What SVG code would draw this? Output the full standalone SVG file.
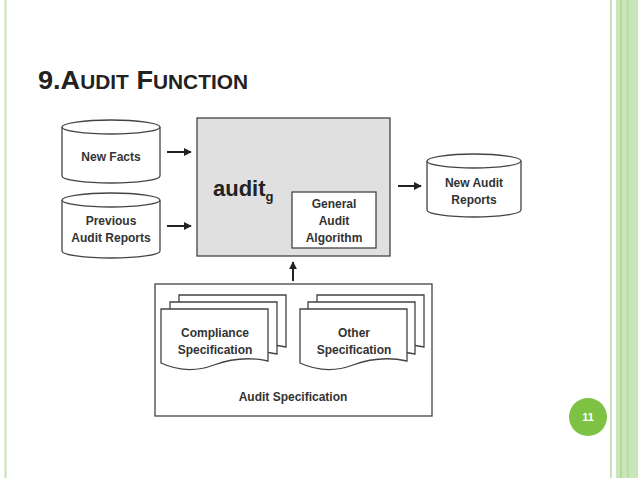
<svg xmlns="http://www.w3.org/2000/svg" width="638" height="478" viewBox="0 0 638 478">
<defs>
<style>
.t{font-family:"Liberation Sans",Arial,sans-serif;font-weight:bold;fill:#333;font-size:12px;text-anchor:middle}
.s{fill:#fff;stroke:#444;stroke-width:1.3}
.c{stroke:#222;stroke-width:2;fill:none}
</style>
<marker id="ah" viewBox="0 0 10 10" refX="9" refY="5" markerWidth="4" markerHeight="4" orient="auto"><path d="M0,0L10,5L0,10z" fill="#222"/></marker>
<g id="pg"><path d="M0,0H107V52Q80,46 53,56T0,54Z"/></g>
</defs>
<rect width="638" height="478" fill="#fff"/>
<rect x="4.5" y="0" width="2" height="478" fill="#c7e3b5"/>
<rect x="610" y="0" width="2" height="478" fill="#c7e3b5"/>
<rect x="616" y="0" width="22" height="478" fill="#c9e6b8"/>
<rect x="620" y="0" width="2" height="478" fill="#b3d99d"/>
<rect x="627" y="0" width="1.5" height="478" fill="#b3d99d"/>
<text x="38" y="89" font-family="Liberation Sans,Arial,sans-serif" font-weight="bold" font-size="26" fill="#222" textLength="210" lengthAdjust="spacingAndGlyphs">9.A<tspan font-size="20">UDIT</tspan> F<tspan font-size="20">UNCTION</tspan></text>
<g id="newfacts"><path class="s" d="M62,127V176A49,7 0 0 0 160,176V127"/><ellipse class="s" cx="111" cy="127" rx="49" ry="7"/><text class="t" x="111" y="161">New Facts</text></g>
<g id="previous"><path class="s" d="M62,200V251A49,7 0 0 0 160,251V200"/><ellipse class="s" cx="111" cy="200" rx="49" ry="7"/><text class="t" x="111" y="225">Previous</text><text class="t" x="111" y="242">Audit Reports</text></g>
<g id="audit"><rect x="197" y="118" width="193" height="138" fill="#e0e0e0" stroke="#444" stroke-width="1.3"/><text x="213" y="196" font-family="Liberation Sans,Arial,sans-serif" font-weight="bold" font-size="22" fill="#222">audit<tspan font-size="13" dy="5">g</tspan></text></g>
<g id="algorithm"><rect class="s" x="292" y="192" width="84" height="56"/><text class="t" x="334" y="208">General</text><text class="t" x="334" y="225">Audit</text><text class="t" x="334" y="242">Algorithm</text></g>
<g id="newaudit"><path class="s" d="M427,161V210A47,7 0 0 0 521,210V161"/><ellipse class="s" cx="474" cy="161" rx="47" ry="7"/><text class="t" x="474" y="187">New Audit</text><text class="t" x="474" y="204">Reports</text></g>
<g id="spec"><rect class="s" x="155" y="284" width="277" height="132"/><text class="t" x="293" y="401">Audit Specification</text></g>
<g id="compliance" class="s"><use href="#pg" x="179" y="295"/><use href="#pg" x="170" y="302"/><use href="#pg" x="161" y="309"/><text class="t" x="215" y="337" stroke="none">Compliance</text><text class="t" x="215" y="354" stroke="none">Specification</text></g>
<g id="other" class="s"><use href="#pg" x="317" y="295"/><use href="#pg" x="308" y="302"/><use href="#pg" x="300" y="309"/><text class="t" x="354" y="337" stroke="none">Other</text><text class="t" x="354" y="354" stroke="none">Specification</text></g>
<g id="connectors">
<line class="c" x1="167" y1="152" x2="191" y2="152" marker-end="url(#ah)"/>
<line class="c" x1="167" y1="226" x2="191" y2="226" marker-end="url(#ah)"/>
<line class="c" x1="398" y1="186" x2="421" y2="186" marker-end="url(#ah)"/>
<line class="c" x1="293" y1="281" x2="293" y2="262" marker-end="url(#ah)"/>
</g>
<g id="page"><circle cx="588" cy="417" r="19" fill="#7dc242"/><text x="588" y="421" font-family="Liberation Sans,Arial,sans-serif" font-weight="bold" font-size="11" fill="#fff" text-anchor="middle">11</text></g>
</svg>
